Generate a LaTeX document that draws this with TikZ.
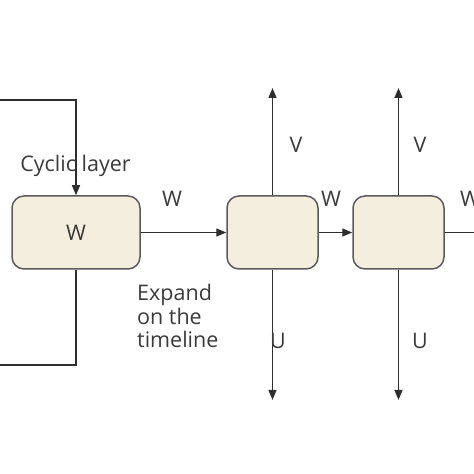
\documentclass[tikz,border=0pt]{standalone}
\usepackage{fontspec}
\setmainfont{Open Sans}
\usetikzlibrary{arrows.meta}
\definecolor{cellfill}{HTML}{F3EEDD}
\definecolor{cellline}{HTML}{5A5A5A}
\definecolor{wire}{HTML}{2E2E2E}
\definecolor{txt}{HTML}{3A3A3A}
\tikzset{
  cell/.style={draw=cellline, fill=cellfill, line width=1.5pt, rounded corners=12pt, inner sep=0pt},
  wire/.style={draw=wire, line width=1.4pt},
  tip/.style={wire, -{Triangle[length=10pt,width=8pt]}},
  lbl/.style={text=txt, font=\fontsize{21.5}{23.5}\selectfont, inner sep=0pt}
}
\begin{document}
\begin{tikzpicture}[x=1pt, y=1pt]
  \useasboundingbox (0,0) rectangle (474,474);
  % folded cell with its loop
  \node[cell, minimum width=128pt, minimum height=73pt] (cell0) at (76,241.5) {};
  \node[lbl] (w0) at (cell0.center) {W};
  \coordinate (loopin) at (0,374);
  \coordinate (loopout) at (0,109);
  \draw[tip] (loopin) -- (76,374) -- (cell0.north);
  \draw[wire] (cell0.south) -- (76,109) -- (loopout);
  \node[lbl] (cyclic) at (75.5,308) {Cyclic layer};
  % unrolled cells
  \foreach \i/\x in {1/272.5, 2/398.5} {
    \node[cell, minimum width=91pt, minimum height=73pt] (cell\i) at (\x,241.5) {};
    \coordinate (out\i) at (\x,386);
    \coordinate (in\i) at (\x,74);
    \draw[tip] (cell\i.north) -- (out\i);
    \draw[tip] (cell\i.south) -- (in\i);
  }
  \coordinate (next) at (474,241.5);
  \draw[tip] (cell0.east) -- (cell1.west);
  \draw[tip] (cell1.east) -- (cell2.west);
  \draw[wire] (cell2.east) -- (next);
  \node[lbl] (w1) at (172,275) {W};
  \node[lbl] (w2) at (331,275) {W};
  \node[lbl] (w3) at (470,275) {W};
  \node[lbl] (v1) at (296,329) {V};
  \node[lbl] (v2) at (420,329) {V};
  \node[lbl] (u1) at (278,133) {U};
  \node[lbl] (u2) at (420,133) {U};
  \node[lbl, anchor=west, align=left] (expand) at (137,158) {Expand\\on the\\timeline};
\end{tikzpicture}
\end{document}
